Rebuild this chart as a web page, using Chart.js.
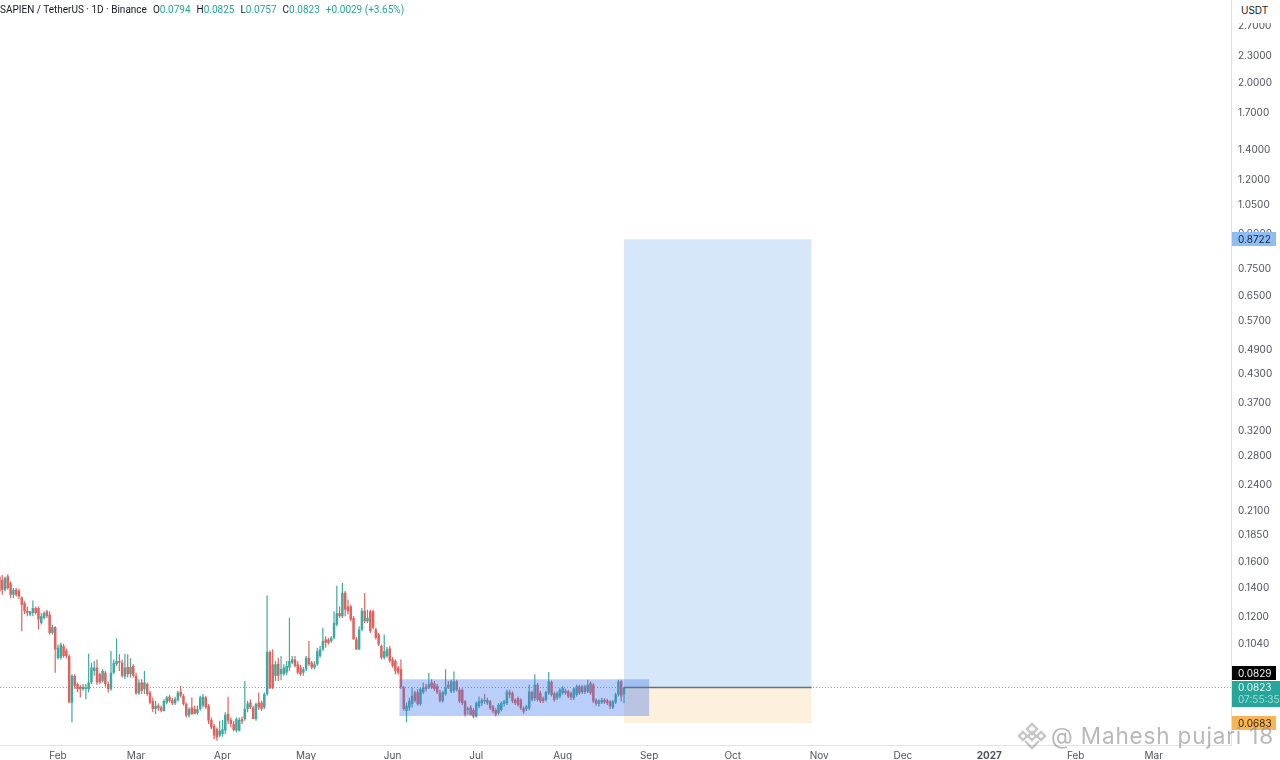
<!DOCTYPE html>
<html>
<head>
<meta charset="utf-8">
<title>SAPIEN / TetherUS</title>
<script src="https://cdn.jsdelivr.net/npm/chart.js@4"></script>
<style>
html, body { margin: 0; padding: 0; background: #fff; overflow: hidden; }
body { width: 1280px; height: 760px; position: relative; font-family: Inter, "Noto Sans", sans-serif; }
canvas { position: absolute; left: 0; top: 0; }
#header { position: absolute; left: 0; top: 3px; font-family: Roboto, sans-serif; font-size: 10px; line-height: 13px; color: #131722; white-space: nowrap; }
#header b { font-weight: normal; color: #26a69a; }
#header span { margin-left: 6px; }
#unit { position: absolute; left: 1232px; top: 0; width: 48px; height: 23px; background: #fff; font-size: 10px; line-height: 21px; color: #131722; text-indent: 9px; }
#mark { position: absolute; left: 1017px; top: 721px; height: 30px; white-space: nowrap; font-size: 22.5px; line-height: 30px; letter-spacing: 0.85px; color: rgba(140,140,140,0.62); }
#mark svg { vertical-align: top; margin-right: 4px; }
</style>
</head>
<body>
<canvas id="chart" width="1280" height="760"></canvas>
<div id="header">SAPIEN / TetherUS · 1D · Binance<span>O<b>0.0794</b></span><span>H<b>0.0825</b></span><span>L<b>0.0757</b></span><span>C<b>0.0823</b></span><span><b>+0.0029 (+3.65%)</b></span></div>
<div id="unit">USDT</div>
<div id="mark"><svg width="30" height="30" viewBox="0 0 30 30" fill="none" stroke="rgba(160,160,160,0.6)" stroke-width="2.4"><path d="M15 3l5 5-5 5-5-5zM6 11l4 4-4 4-4-4zM24 11l4 4-4 4-4-4zM15 11l4 4-4 4-4-4zM8 20l7 7 7-7"/></svg>@ Mahesh pujari 18</div>
<script>
// one candle per day, day 0 = 1 Feb 2026
var firstDay = -21;

var opens = [
    .1477,.1451,.1377,.1477,.1426,.1341,.1377,.1370,.1322,.1283,
    .1233,.1208,.1218,.1251,.1251,.1156,.1187,.1229,.1208,.1097,
    .1131,.0960,.0963,.1024,.1000,.0971,.0760,.0875,.0838,.0826,
    .0816,.0816,.0816,.0845,.0898,.0914,.0883,.0852,.0890,.0838,
    .0816,.0890,.0930,.0946,.0938,.0871,.0917,.0883,.0922,.0875,
    .0798,.0845,.0816,.0838,.0802,.0767,.0735,.0748,.0741,.0728,
    .0760,.0784,.0770,.0757,.0770,.0805,.0788,.0754,.0710,.0741,
    .0735,.0719,.0735,.0748,.0781,.0748,.0694,.0673,.0661,.0639,
    .0644,.0656,.0716,.0694,.0679,.0656,.0656,.0697,.0697,.0735,
    .0760,.0741,.0697,.0760,.0760,.0741,.0795,.0993,.0930,.0875,
    .0933,.0883,.0883,.0890,.0914,.0938,.0954,.0930,.0914,.0890,
    .0906,.0963,.0938,.0914,.0930,.0971,.1006,.1060,.1060,.1051,
    .1069,.1146,.1218,.1198,.1356,.1261,.1261,.1187,.1060,.1006,
    .1117,.1233,.1166,.1229,.1229,.1117,.1088,.1024,.0963,.0971,
    .1011,.0954,.0946,.0914,.0906,.0823,.0728,.0741,.0754,.0802,
    .0802,.0754,.0802,.0826,.0823,.0845,.0841,.0830,.0802,.0767,
    .0795,.0835,.0806,.0809,.0850,.0813,.0813,.0765,.0731,.0741,
    .0731,.0706,.0745,.0758,.0771,.0758,.0765,.0745,.0731,.0719,
    .0731,.0755,.0758,.0803,.0799,.0771,.0778,.0771,.0738,.0735,
    .0738,.0803,.0778,.0835,.0799,.0778,.0771,.0799,.0847,.0799,
    .0778,.0785,.0799,.0809,.0806,.0799,.0778,.0792,.0828,.0803,
    .0828,.0806,.0842,.0835,.0771,.0755,.0761,.0771,.0768,.0765,
    .0741,.0761,.0792,.0850,.0794
];
var highs = [
    .1489,.1489,.1477,.1494,.1438,.1389,.1389,.1384,.1329,.1295,
    .1261,.1229,.1302,.1261,.1261,.1218,.1229,.1240,.1229,.1146,
    .1136,.1032,.1041,.1036,.1011,.0980,.0883,.0883,.0845,.0835,
    .0838,.0838,.0983,.0938,.0946,.0954,.0890,.0906,.0898,.0849,
    .0997,.0954,.1066,.0980,.0954,.0983,.0980,.0960,.0930,.0890,
    .0860,.0860,.0898,.0845,.0809,.0781,.0767,.0757,.0748,.0774,
    .0788,.0792,.0778,.0784,.0809,.0830,.0795,.0760,.0741,.0781,
    .0748,.0748,.0788,.0795,.0788,.0754,.0703,.0679,.0667,.0691,
    .0694,.0722,.0784,.0703,.0691,.0703,.0703,.0706,.0852,.0767,
    .0774,.0748,.0760,.0802,.0767,.0802,.1336,.1000,.1006,.0946,
    .0963,.0971,.0930,.0946,.1187,.0971,.0971,.0946,.0927,.0917,
    .0971,.1051,.0946,.0946,.1015,.1024,.1127,.1078,.1069,.1078,
    .1229,.1407,.1261,.1426,.1368,.1306,.1272,.1198,.1073,.1136,
    .1251,.1353,.1240,.1240,.1240,.1127,.1097,.1032,.1088,.1019,
    .1024,.0966,.0954,.0922,.0954,.0830,.0760,.0781,.0823,.0809,
    .0816,.0823,.0845,.0838,.0890,.0860,.0852,.0838,.0812,.0809,
    .0906,.0852,.0857,.0895,.0857,.0820,.0820,.0771,.0745,.0750,
    .0738,.0765,.0785,.0778,.0795,.0780,.0771,.0751,.0738,.0758,
    .0765,.0771,.0813,.0813,.0806,.0778,.0785,.0778,.0745,.0751,
    .0835,.0809,.0882,.0843,.0809,.0785,.0809,.0893,.0854,.0806,
    .0806,.0820,.0828,.0818,.0813,.0806,.0822,.0835,.0835,.0835,
    .0835,.0857,.0850,.0842,.0778,.0774,.0780,.0778,.0776,.0771,
    .0771,.0801,.0857,.0857,.0825
];
var lows = [
    .1341,.1341,.1365,.1377,.1317,.1317,.1329,.1312,.1107,.1212,
    .1198,.1198,.1198,.1208,.1117,.1146,.1177,.1187,.1088,.1088,
    .0890,.0954,.0954,.0963,.0960,.0760,.0685,.0816,.0802,.0781,
    .0809,.0774,.0802,.0838,.0875,.0835,.0838,.0845,.0826,.0802,
    .0809,.0883,.0922,.0898,.0867,.0860,.0867,.0867,.0867,.0792,
    .0792,.0795,.0795,.0788,.0754,.0722,.0716,.0728,.0722,.0725,
    .0754,.0760,.0751,.0751,.0764,.0781,.0748,.0703,.0703,.0713,
    .0716,.0713,.0728,.0741,.0735,.0679,.0661,.0627,.0622,.0633,
    .0635,.0644,.0679,.0667,.0653,.0650,.0653,.0679,.0691,.0722,
    .0735,.0697,.0691,.0731,.0728,.0735,.0788,.0816,.0816,.0852,
    .0852,.0855,.0875,.0880,.0898,.0930,.0914,.0883,.0875,.0875,
    .0898,.0922,.0906,.0906,.0922,.0963,.0997,.1015,.1032,.1041,
    .1060,.1136,.1187,.1187,.1198,.1208,.1166,.1060,.1002,.1002,
    .1107,.1156,.1156,.1097,.1117,.1060,.1024,.0954,.0954,.0963,
    .0938,.0914,.0883,.0880,.0816,.0728,.0685,.0728,.0741,.0760,
    .0748,.0748,.0795,.0806,.0816,.0816,.0809,.0795,.0760,.0760,
    .0788,.0816,.0799,.0799,.0806,.0758,.0751,.0706,.0713,.0710,
    .0700,.0703,.0738,.0747,.0755,.0751,.0731,.0719,.0706,.0713,
    .0725,.0745,.0751,.0778,.0758,.0751,.0745,.0731,.0717,.0727,
    .0731,.0765,.0767,.0765,.0758,.0758,.0765,.0792,.0785,.0765,
    .0771,.0778,.0792,.0792,.0778,.0771,.0771,.0785,.0792,.0795,
    .0795,.0799,.0792,.0758,.0748,.0745,.0755,.0755,.0751,.0735,
    .0735,.0755,.0785,.0765,.0757
];
var closes = [
    .1365,.1377,.1464,.1389,.1341,.1377,.1341,.1329,.1272,.1229,
    .1218,.1229,.1251,.1218,.1177,.1198,.1218,.1198,.1097,.1131,
    .1006,.1015,.1032,.0971,.0971,.0760,.0875,.0830,.0816,.0816,
    .0826,.0823,.0845,.0914,.0914,.0845,.0845,.0898,.0838,.0816,
    .0890,.0938,.0946,.0938,.0875,.0914,.0883,.0917,.0875,.0798,
    .0845,.0809,.0845,.0795,.0760,.0735,.0748,.0738,.0728,.0767,
    .0781,.0767,.0757,.0774,.0802,.0788,.0754,.0710,.0735,.0716,
    .0716,.0735,.0781,.0784,.0741,.0691,.0667,.0639,.0633,.0656,
    .0661,.0713,.0691,.0679,.0658,.0697,.0694,.0688,.0735,.0757,
    .0741,.0697,.0754,.0741,.0735,.0795,.0993,.0820,.0820,.0930,
    .0875,.0906,.0914,.0922,.0946,.0954,.0922,.0890,.0883,.0906,
    .0963,.0930,.0914,.0930,.0997,.1006,.1051,.1041,.1041,.1069,
    .1156,.1218,.1198,.1356,.1240,.1229,.1177,.1060,.1006,.1117,
    .1233,.1166,.1187,.1107,.1127,.1069,.1032,.0963,.0997,.1006,
    .0946,.0922,.0898,.0890,.0823,.0735,.0748,.0767,.0788,.0767,
    .0754,.0816,.0823,.0816,.0838,.0823,.0816,.0802,.0767,.0802,
    .0823,.0823,.0850,.0850,.0813,.0765,.0758,.0713,.0738,.0713,
    .0706,.0758,.0765,.0771,.0765,.0771,.0738,.0725,.0713,.0751,
    .0758,.0765,.0806,.0792,.0765,.0758,.0751,.0738,.0725,.0745,
    .0806,.0771,.0835,.0771,.0765,.0767,.0803,.0850,.0792,.0771,
    .0799,.0813,.0820,.0799,.0785,.0781,.0818,.0828,.0799,.0828,
    .0803,.0835,.0799,.0765,.0755,.0768,.0771,.0761,.0758,.0745,
    .0765,.0793,.0850,.0785,.0823
];

var priceTicks = [2.7,2.3,2.0,1.7,1.4,1.2,1.05,.9,.75,.65,.57,.49,.43,.37,.32,.28,.24,.21,.185,.16,.14,.12,.104];
var monthDays = [0,28,59,89,120,150,181,212,242,273,303,334,365,393];
var monthLabels = ['Feb','Mar','Apr','May','Jun','Jul','Aug','Sep','Oct','Nov','Dec','2027','Feb','Mar'];

var lastPrice = 0.0823;
var targetPrice = 0.8722;
var stopPrice = 0.0683;
var prevMark = 0.0829;
var countdown = '07:55:35';
var positionDays = [203, 270.3];
var rangeDays = [122.4, 212.1];
var rangeTop = 0.0860;
var rangeBottom = 0.0708;
var viewDays = [-20.8, 420.7];
var viewPrices = [0.0608, 3.073];

var upColour = '#3fa99f';
var downColour = '#e0625e';

var days = opens.map(function (o, i) { return firstDay + i; });

function candleColour(ctx) {
    var i = ctx.dataIndex;
    return closes[i] >= opens[i] ? upColour : downColour;
}

function flatLine(xs, price) {
    return xs.map(function (x) { return { x: x, y: price }; });
}

// price tags on the axis, placed from the scale and nudged apart like the original
var axisTags = {
    id: 'axisTags',
    afterDraw: function (chart) {
        var c = chart.ctx;
        var y = chart.scales.y;
        var left = chart.chartArea.right + 1;

        function tag(price, nudge, h, w, bg, fg, text) {
            var py = Math.round(y.getPixelForValue(price)) + nudge;
            c.fillStyle = bg;
            c.fillRect(left, py - h / 2, w, h);
            c.fillStyle = fg;
            c.font = '10px Inter';
            c.textAlign = 'left';
            c.textBaseline = 'middle';
            c.fillText(text, left + 6, py + 0.5);
        }

        c.save();
        tag(targetPrice, 0, 14, 44, '#8fbdf2', '#10243f', targetPrice.toFixed(4));
        tag(stopPrice, 0, 14, 44, '#f8b556', '#2b1c05', stopPrice.toFixed(4));
        tag(prevMark, -13, 14, 44, '#000000', '#f2f2f2', prevMark.toFixed(4));

        var py = Math.round(y.getPixelForValue(lastPrice));
        c.fillStyle = '#26a69a';
        c.fillRect(left, py - 6, 49, 26);
        c.fillStyle = '#e8f6f4';
        c.font = '10px Inter';
        c.textBaseline = 'middle';
        c.fillText(lastPrice.toFixed(4), left + 6, py + 1);
        c.fillStyle = '#a6dcd6';
        c.fillText(countdown, left + 6, py + 13);
        c.restore();
    }
};

new Chart(document.getElementById('chart'), {
    type: 'bar',
    plugins: [axisTags],
    data: {
        datasets: [
            {
                type: 'line',
                label: 'target',
                data: flatLine(positionDays, targetPrice),
                borderWidth: 0,
                pointRadius: 0,
                backgroundColor: '#d6e7f9',
                fill: { value: lastPrice },
                order: 9
            },
            {
                type: 'line',
                label: 'stop',
                data: flatLine(positionDays, stopPrice),
                borderWidth: 0,
                pointRadius: 0,
                backgroundColor: '#fdf0dc',
                fill: { value: lastPrice },
                order: 8
            },
            {
                type: 'line',
                label: 'last price',
                data: flatLine(viewDays, lastPrice),
                borderColor: '#5fbdb2',
                borderWidth: 1,
                borderDash: [1, 2],
                pointRadius: 0,
                fill: false,
                order: 7
            },
            {
                label: 'wick',
                data: days.map(function (d, i) { return { x: d, y: [lows[i], highs[i]] }; }),
                backgroundColor: candleColour,
                barThickness: 1.2,
                grouped: false,
                inflateAmount: 0,
                order: 6
            },
            {
                label: 'body',
                data: days.map(function (d, i) { return { x: d, y: [opens[i], closes[i]] }; }),
                backgroundColor: candleColour,
                barThickness: 2.5,
                grouped: false,
                inflateAmount: 0,
                order: 5
            },
            {
                type: 'line',
                label: 'range',
                data: flatLine(rangeDays, rangeTop),
                borderWidth: 0,
                pointRadius: 0,
                backgroundColor: 'rgba(60,120,235,0.36)',
                fill: { value: rangeBottom },
                order: 4
            },
            {
                type: 'line',
                label: 'entry',
                data: flatLine(positionDays, lastPrice),
                borderColor: '#6b6f78',
                borderWidth: 1.5,
                pointRadius: 0,
                fill: false,
                order: 3
            }
        ]
    },
    options: {
        responsive: false,
        animation: false,
        events: [],
        layout: { padding: 0 },
        plugins: {
            legend: { display: false },
            title: { display: false },
            tooltip: { enabled: false }
        },
        scales: {
            x: {
                type: 'linear',
                offset: false,
                min: viewDays[0],
                max: viewDays[1],
                grid: { display: false, drawTicks: false, offset: false },
                border: { color: '#e0e3eb' },
                afterBuildTicks: function (scale) {
                    scale.ticks = monthDays.map(function (d) { return { value: d }; });
                },
                afterFit: function (scale) {
                    scale.height = 15;
                    scale.paddingLeft = 0;
                    scale.paddingRight = 0;
                },
                ticks: {
                    autoSkip: false,
                    maxRotation: 0,
                    padding: 5,
                    color: '#50535e',
                    font: function (ctx) {
                        return { family: 'Inter', size: 10, weight: monthLabels[ctx.index] === '2027' ? 'bold' : 'normal' };
                    },
                    callback: function (v) { return monthLabels[monthDays.indexOf(v)]; }
                }
            },
            y: {
                type: 'logarithmic',
                position: 'right',
                min: viewPrices[0],
                max: viewPrices[1],
                grid: { display: false, drawTicks: false },
                border: { color: '#e0e3eb' },
                afterBuildTicks: function (scale) {
                    scale.ticks = priceTicks.map(function (p) { return { value: p }; });
                },
                afterFit: function (scale) {
                    scale.width = 49;
                    scale.paddingTop = 0;
                    scale.paddingBottom = 0;
                },
                ticks: {
                    autoSkip: false,
                    padding: 7,
                    labelOffset: 1,
                    color: '#50535e',
                    font: { family: 'Inter', size: 10 },
                    callback: function (v) { return Number(v).toFixed(4); }
                }
            }
        }
    }
});
</script>
</body>
</html>
